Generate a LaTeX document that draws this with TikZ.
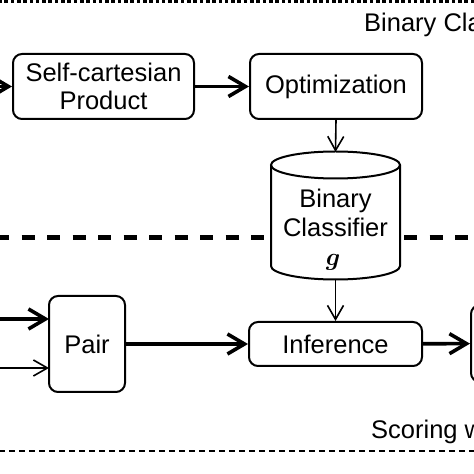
\documentclass[tikz,border=0pt]{standalone}
\usepackage{fontspec}
\setmainfont{Liberation Sans}
\usepackage{amsmath,bm}
\usetikzlibrary{arrows.meta}
\begin{document}
\begin{tikzpicture}[x=1pt,y=1pt,
  box/.style={draw,line width=2pt,rounded corners=9pt,fill=white,inner sep=0pt,
    font=\fontsize{25.5}{28.5}\selectfont,align=center},
  thickarr/.style={line width=3.6pt,-{Straight Barb[length=17pt,width=20pt,line width=3.6pt]}},
  thinarr/.style={line width=1.6pt,-{Straight Barb[length=14pt,width=16pt,line width=1.6pt]}},
  lbl/.style={font=\fontsize{25.5}{29}\selectfont,inner sep=0pt}]
\useasboundingbox (0,0) rectangle (474,474);
\clip (0,0) rectangle (474,474);
% dashed separators
\coordinate (t1) at (-2,472.5); \coordinate (t2) at (480,472.5);
\draw[line width=4pt,dash pattern=on 3.6pt off 2.7pt] (t1) -- (t2);
\coordinate (m1) at (-4,236.5); \coordinate (m2) at (480,236.5);
\draw[line width=4.5pt,dash pattern=on 13pt off 12.5pt] (m1) -- (m2);
\coordinate (b1) at (-1,23); \coordinate (b2) at (480,23);
\draw[line width=2pt,dash pattern=on 6pt off 4pt] (b1) -- (b2);
% section labels
\node[lbl,anchor=base west] (lab1) at (364,442) {Binary Classifier};
\node[lbl,anchor=base west] (lab2) at (371,35) {Scoring with};
% top row
\node[box,minimum width=181pt,minimum height=65pt] (self) at (103.5,387.5) {Self-cartesian\\Product};
\node[box,minimum width=172pt,minimum height=65pt] (opt) at (336,387.5) {Optimization};
\coordinate (inl) at (-20,387.5);
\draw[thickarr] (inl) -- (self.west);
\draw[thickarr] (self) -- (opt);
% cylinder
\coordinate (cyltop) at (335.5,322);
\coordinate (cylbot) at (335.5,195);
\fill[white] (271,309) -- (271,208) arc[start angle=180,end angle=360,x radius=64.5pt,y radius=13.5pt] -- (400,309) arc[start angle=0,end angle=180,x radius=64.5pt,y radius=13.5pt] -- cycle;
\draw[line width=2pt] (271,309) -- (271,208) arc[start angle=180,end angle=360,x radius=64.5pt,y radius=13.5pt] -- (400,309);
\draw[line width=2pt] (335.5,309) ellipse[x radius=64.5pt,y radius=13.5pt];
\node[lbl,align=center,anchor=base] (clf) at (335.5,237) {Binary\\Classifier};
\node[inner sep=0pt,anchor=base,font=\fontsize{26}{28}\selectfont] (g) at (333,208) {$\bm{g}$};
\draw[thinarr] (opt.south) -- (cyltop);
% bottom row
\node[box,minimum width=76pt,minimum height=96pt] (pair) at (87,130) {Pair};
\node[box,minimum width=173pt,minimum height=44pt] (inf) at (335.5,130) {Inference};
\node[box,minimum width=100pt,minimum height=77pt,anchor=west] (nxt) at (470,130.5) {};
\coordinate (p1) at (-20,155);
\coordinate (p2) at (-20,106);
\coordinate (pin1) at (49,155);
\coordinate (pin2) at (49,106);
\draw[thickarr] (p1) -- (pin1);
\draw[thinarr] (p2) -- (pin2);
\draw[thickarr] (pair) -- (inf);
\draw[thinarr] (cylbot) -- (inf.north);
\draw[thickarr] (inf) -- (nxt);
\end{tikzpicture}
\end{document}
